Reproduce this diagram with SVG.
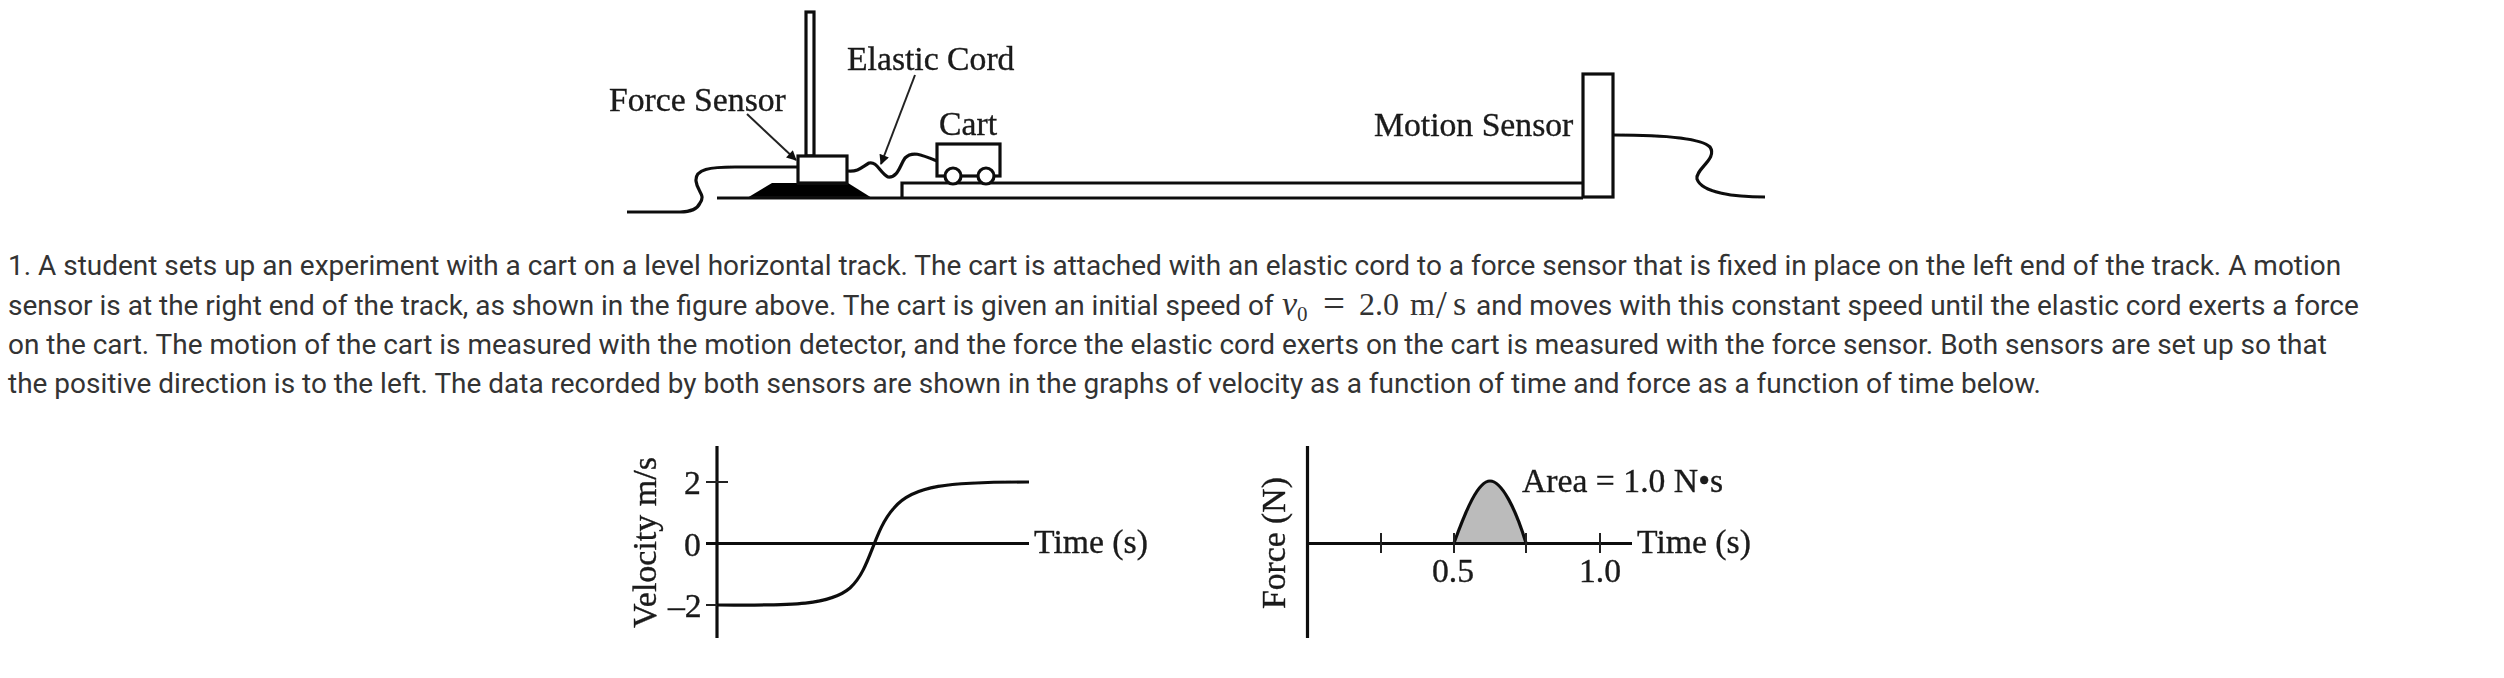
<svg xmlns="http://www.w3.org/2000/svg" width="2504" height="678" viewBox="0 0 2504 678">
<style>
.p{font-family:Roboto,"Liberation Sans",sans-serif;font-size:27.98px;fill:#333}
.f{font-family:"Liberation Serif",serif;font-size:33.7px;fill:#1a1a1a;stroke:#1a1a1a;stroke-width:.35}
.m{font-family:"Liberation Serif",serif;font-size:32px;fill:#333}
.l{fill:none;stroke:#111;stroke-width:3.2}
.t{fill:none;stroke:#222;stroke-width:2}
.w{fill:#fff;stroke:#111;stroke-width:3.2}
</style>
<defs>
<filter id="b" x="-5%" y="-5%" width="110%" height="110%"><feGaussianBlur stdDeviation="0.7"/></filter>
<marker id="a" viewBox="0 0 10 10" refX="9" refY="5" markerWidth="12" markerHeight="10" markerUnits="userSpaceOnUse" orient="auto"><path d="M0 0L10 5L0 10Z" fill="#111"/></marker>
</defs>
<rect width="2504" height="678" fill="#fff"/>
<g id="apparatus" filter="url(#b)">
<g transform="translate(0 1)">
<rect class="w" x="806" y="11" width="8" height="144"/>
<path d="M747 197L772 182H848L872 197Z" fill="#000"/>
<path class="l" d="M717 197H902V182H1583M902 197H1583"/>
<rect class="w" x="798" y="155" width="49" height="27"/>
<rect class="w" x="1583" y="73" width="30" height="123"/>
<path class="l" d="M797 166H735C710 166 695 168 696 180C697 190 706 194 700 202C697 209 690 211 680 211H627"/>
<path class="l" d="M848 170C858 171 862 166 869 162C877 160 880 172 888 176C898 177 900 164 905 157C912 150 920 153 937 160"/>
<path class="l" d="M1614 134C1650 134 1700 136 1710 146C1718 158 1695 168 1697 178C1702 192 1735 196 1765 196"/>
<rect class="w" x="937" y="143" width="63" height="32"/>
<circle class="w" cx="953" cy="175" r="8"/>
<circle class="w" cx="986" cy="175" r="8"/>
</g>
<path d="M747 114L796 160" fill="none" stroke="#222" stroke-width="2" marker-end="url(#a)"/>
<path d="M915 75L881 164" fill="none" stroke="#222" stroke-width="2" marker-end="url(#a)"/>
<text class="f" x="609" y="111">Force Sensor</text>
<text class="f" x="847" y="70">Elastic Cord</text>
<text class="f" x="939" y="135">Cart</text>
<text class="f" x="1374" y="136">Motion Sensor</text>
</g>
<g id="problem-text">
<text class="p" x="8" y="275">1. A student sets up an experiment with a cart on a level horizontal track. The cart is attached with an elastic cord to a force sensor that is fixed in place on the left end of the track. A motion</text>
<text class="p" x="8" y="315">sensor is at the right end of the track, as shown in the figure above. The cart is given an initial speed of</text>
<text class="m" x="1282" y="315" font-style="italic" style="font-size:34px">v</text>
<text class="m" x="1297" y="321" style="font-size:21px">0</text>
<text class="m" x="1323" y="317" style="font-size:39px">=</text>
<text class="m" x="1359" y="315">2.0</text>
<text class="m" x="1410" y="315">m</text>
<text class="m" x="1436" y="318" style="font-size:39px">/</text>
<text class="m" x="1453" y="315" style="font-size:34px">s</text>
<text class="p" x="1476" y="315">and moves with this constant speed until the elastic cord exerts a force</text>
<text class="p" x="8" y="354">on the cart. The motion of the cart is measured with the motion detector, and the force the elastic cord exerts on the cart is measured with the force sensor. Both sensors are set up so that</text>
<text class="p" x="8" y="393">the positive direction is to the left. The data recorded by both sensors are shown in the graphs of velocity as a function of time and force as a function of time below.</text>
</g>
<g id="velocity-graph" filter="url(#b)">
<path class="l" d="M717 446V638M706 543.5H1029"/>
<path class="t" d="M706 482H728M706 605H717"/>
<path class="l" d="M717 605C782 605 828 607 850 588C871 569 873 531 894 508C913 485 948 482 1029 482"/>
<text class="f" x="684" y="494">2</text>
<text class="f" x="684" y="556">0</text>
<text class="f" x="668" y="617">–2</text>
<text class="f" x="1034" y="553">Time (s)</text>
<text class="f" transform="translate(656 628) rotate(-90)" style="font-size:34px">Velocity m/s</text>
</g>
<g id="force-graph" filter="url(#b)">
<path d="M1454 543C1466 510 1478 481 1490 481C1502 481 1516 510 1526 543Z" fill="#bbb"/>
<path class="l" d="M1454 543C1466 510 1478 481 1490 481C1502 481 1516 510 1526 543"/>
<path class="l" d="M1307.500 446V638M1308 543.500H1632"/>
<path class="t" d="M1381 533V553M1454 533V553M1526 533V553M1600 533V553"/>
<text class="f" x="1522" y="492">Area = 1.0 N•s</text>
<text class="f" x="1453" y="582" text-anchor="middle">0.5</text>
<text class="f" x="1600" y="582" text-anchor="middle">1.0</text>
<text class="f" x="1637" y="553">Time (s)</text>
<text class="f" transform="translate(1285 609) rotate(-90)">Force (N)</text>
</g>
</svg>
